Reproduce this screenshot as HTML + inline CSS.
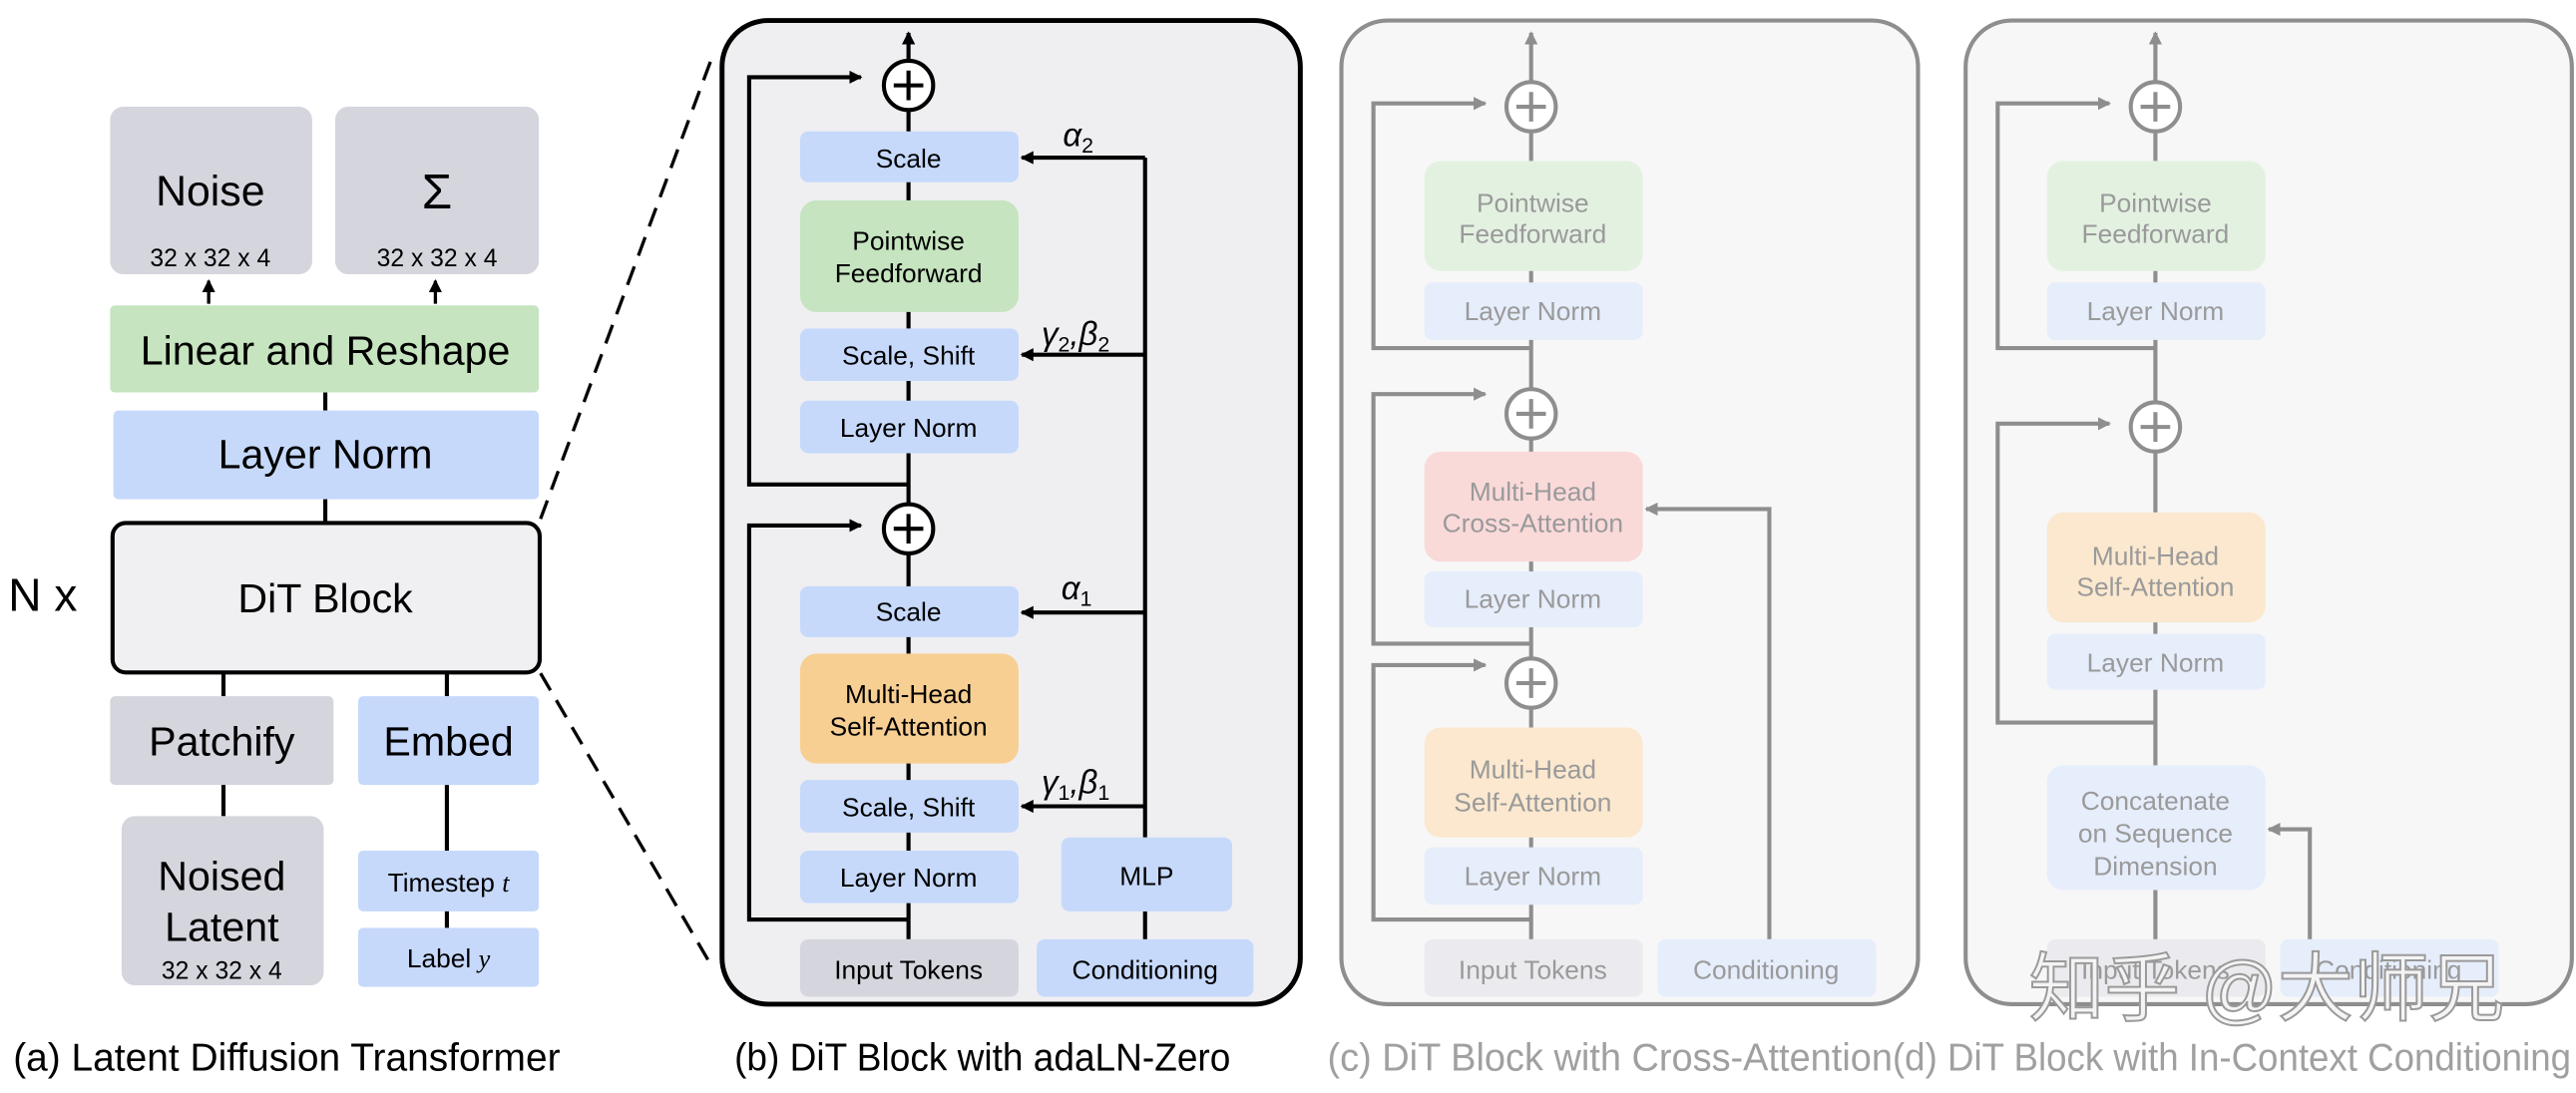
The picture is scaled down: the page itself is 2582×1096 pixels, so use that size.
<!DOCTYPE html>
<html><head><meta charset="utf-8"><style>
html,body{margin:0;padding:0;background:#fff;}
svg{display:block;}
text{font-family:"Liberation Sans","Noto Sans CJK SC",sans-serif;}
</style></head><body>
<svg width="2582" height="1096" viewBox="0 0 1568 665.6" xmlns="http://www.w3.org/2000/svg">
<defs>
<marker id="ab" markerWidth="8" markerHeight="8" refX="7" refY="4" orient="auto" markerUnits="userSpaceOnUse"><path d="M0,0 L8,4 L0,8 z" fill="#000"/></marker>
<marker id="ag" markerWidth="8" markerHeight="8" refX="7" refY="4" orient="auto" markerUnits="userSpaceOnUse"><path d="M0,0 L8,4 L0,8 z" fill="#8e8e8e"/></marker>
</defs>
<rect width="1568" height="665.6" fill="#fff"/>

<!-- Panel (a) -->
<g text-anchor="middle" fill="#000">
<rect x="67" y="65" width="123" height="102" rx="8" fill="#d5d5de"/>
<text x="128" y="125" font-size="26">Noise</text>
<text x="128" y="162" font-size="15">32 x 32 x 4</text>
<rect x="204" y="65" width="124" height="102" rx="8" fill="#d5d5de"/>
<text x="266" y="127" font-size="30">Σ</text>
<text x="266" y="162" font-size="15">32 x 32 x 4</text>
<line x1="127" y1="185" x2="127" y2="171" stroke="#000" stroke-width="2" marker-end="url(#ab)"/>
<line x1="265" y1="185" x2="265" y2="171" stroke="#000" stroke-width="2" marker-end="url(#ab)"/>
<rect x="67" y="186" width="261" height="53" rx="3" fill="#c5e4bf"/>
<text x="198" y="222" font-size="25">Linear and Reshape</text>
<line x1="198" y1="239" x2="198" y2="250" stroke="#000" stroke-width="2.5"/>
<rect x="69" y="250" width="259" height="54" rx="3" fill="#c6d9fb"/>
<text x="198" y="285" font-size="25">Layer Norm</text>
<line x1="198" y1="304" x2="198" y2="318" stroke="#000" stroke-width="2.5"/>
<rect x="68.5" y="318.5" width="260" height="91" rx="8" fill="#f0f0f2" stroke="#000" stroke-width="2.5"/>
<text x="198" y="373" font-size="25">DiT Block</text>
<text x="5" y="372" font-size="28" text-anchor="start">N x</text>
<line x1="136" y1="410" x2="136" y2="424" stroke="#000" stroke-width="2.5"/>
<line x1="272" y1="410" x2="272" y2="424" stroke="#000" stroke-width="2.5"/>
<rect x="67" y="424" width="136" height="54" rx="3" fill="#d5d5de"/>
<text x="135" y="460" font-size="25">Patchify</text>
<rect x="218" y="424" width="110" height="54" rx="3" fill="#c6d9fb"/>
<text x="273" y="460" font-size="25">Embed</text>
<line x1="136" y1="478" x2="136" y2="497" stroke="#000" stroke-width="2.5"/>
<rect x="74" y="497" width="123" height="103" rx="8" fill="#d5d5de"/>
<text x="135" y="542" font-size="25">Noised</text>
<text x="135" y="573" font-size="25">Latent</text>
<text x="135" y="596" font-size="15">32 x 32 x 4</text>
<line x1="272" y1="478" x2="272" y2="585" stroke="#000" stroke-width="2.5"/>
<rect x="218" y="518" width="110" height="37" rx="3" fill="#c6d9fb"/>
<text x="273" y="543" font-size="16">Timestep <tspan font-style="italic" font-family="Liberation Serif, serif">t</tspan></text>
<rect x="218" y="565" width="110" height="36" rx="3" fill="#c6d9fb"/>
<text x="273" y="589" font-size="16">Label <tspan font-style="italic" font-family="Liberation Serif, serif">y</tspan></text>
<text x="8" y="652" font-size="23.5" text-anchor="start" textLength="333" lengthAdjust="spacingAndGlyphs">(a) Latent Diffusion Transformer</text>
</g>
<line x1="329" y1="316" x2="433" y2="36" stroke="#000" stroke-width="2" stroke-dasharray="12,7"/>
<line x1="329" y1="410" x2="433" y2="588" stroke="#000" stroke-width="2" stroke-dasharray="12,7"/>

<!-- Panel (b) -->
<rect x="439.5" y="12.5" width="352" height="599" rx="28" fill="#efeff2" stroke="#000" stroke-width="3"/>
<g stroke="#000" stroke-width="2.5" fill="none">
<line x1="553" y1="37" x2="553" y2="20" marker-end="url(#ab)"/>
<line x1="553" y1="67" x2="553" y2="560"/>
<polyline points="553,295 456,295 456,47 524,47" marker-end="url(#ab)"/>
<polyline points="553,560 456,560 456,320 524,320" marker-end="url(#ab)"/>
<line x1="553" y1="560" x2="553" y2="572"/>
<line x1="697" y1="96" x2="697" y2="510"/>
<line x1="697" y1="555" x2="697" y2="572"/>
<line x1="697" y1="96" x2="622" y2="96" marker-end="url(#ab)"/>
<line x1="697" y1="216" x2="622" y2="216" marker-end="url(#ab)"/>
<line x1="697" y1="373" x2="622" y2="373" marker-end="url(#ab)"/>
<line x1="697" y1="491" x2="622" y2="491" marker-end="url(#ab)"/>
</g>
<g text-anchor="middle" fill="#000" font-size="16">
<circle cx="553" cy="52" r="15" fill="#fff" stroke="#000" stroke-width="2.5"/>
<path d="M544,52 H562 M553,43 V61" stroke="#000" stroke-width="2.5"/>
<circle cx="553" cy="322" r="15" fill="#fff" stroke="#000" stroke-width="2.5"/>
<path d="M544,322 H562 M553,313 V331" stroke="#000" stroke-width="2.5"/>
<rect x="487" y="80" width="133" height="31" rx="5" fill="#c6d9fb"/><text x="553" y="102">Scale</text>
<rect x="487" y="122" width="133" height="68" rx="10" fill="#c5e4bf"/><text x="553" y="152">Pointwise</text><text x="553" y="172">Feedforward</text>
<rect x="487" y="200" width="133" height="32" rx="5" fill="#c6d9fb"/><text x="553" y="222">Scale, Shift</text>
<rect x="487" y="244" width="133" height="32" rx="5" fill="#c6d9fb"/><text x="553" y="266">Layer Norm</text>
<rect x="487" y="357" width="133" height="31" rx="5" fill="#c6d9fb"/><text x="553" y="378">Scale</text>
<rect x="487" y="398" width="133" height="67" rx="10" fill="#f8cf93"/><text x="553" y="428">Multi-Head</text><text x="553" y="448">Self-Attention</text>
<rect x="487" y="475" width="133" height="32" rx="5" fill="#c6d9fb"/><text x="553" y="497">Scale, Shift</text>
<rect x="487" y="518" width="133" height="32" rx="5" fill="#c6d9fb"/><text x="553" y="540">Layer Norm</text>
<rect x="646" y="510" width="104" height="45" rx="5" fill="#c6d9fb"/><text x="698" y="539">MLP</text>
<rect x="487" y="572" width="133" height="35" rx="5" fill="#d5d5de"/><text x="553" y="596">Input Tokens</text>
<rect x="631" y="572" width="132" height="35" rx="5" fill="#c6d9fb"/><text x="697" y="596">Conditioning</text>
<g font-family="Liberation Serif, serif" font-style="italic" font-size="20" text-anchor="start">
<text x="647" y="89">α<tspan font-size="13" dy="4" font-style="normal">2</tspan></text>
<text x="634" y="210">γ<tspan font-size="13" dy="4" font-style="normal">2</tspan><tspan dy="-4">,β</tspan><tspan font-size="13" dy="4" font-style="normal">2</tspan></text>
<text x="646" y="365">α<tspan font-size="13" dy="4" font-style="normal">1</tspan></text>
<text x="634" y="483">γ<tspan font-size="13" dy="4" font-style="normal">1</tspan><tspan dy="-4">,β</tspan><tspan font-size="13" dy="4" font-style="normal">1</tspan></text>
</g>
<text x="447" y="652" font-size="23.5" text-anchor="start" textLength="302" lengthAdjust="spacingAndGlyphs">(b) DiT Block with adaLN-Zero</text>
</g>

<!-- Panel (c) -->
<rect x="816.5" y="12.5" width="351" height="599" rx="28" fill="#f7f7f7" stroke="#8e8e8e" stroke-width="2.5"/>
<g stroke="#8e8e8e" stroke-width="2.5" fill="none">
<line x1="932" y1="50" x2="932" y2="20" marker-end="url(#ag)"/>
<line x1="932" y1="80" x2="932" y2="572"/>
<polyline points="932,212 836,212 836,63 904,63" marker-end="url(#ag)"/>
<polyline points="932,392 836,392 836,240 904,240" marker-end="url(#ag)"/>
<polyline points="932,560 836,560 836,405 904,405" marker-end="url(#ag)"/>
<polyline points="1077,572 1077,310 1002,310" marker-end="url(#ag)"/>
</g>
<g text-anchor="middle" fill="#9a9a9a" font-size="16">
<circle cx="932" cy="65" r="15" fill="#fff" stroke="#8e8e8e" stroke-width="2.5"/><path d="M923,65 H941 M932,56 V74" stroke="#8e8e8e" stroke-width="2.5"/>
<circle cx="932" cy="252" r="15" fill="#fff" stroke="#8e8e8e" stroke-width="2.5"/><path d="M923,252 H941 M932,243 V261" stroke="#8e8e8e" stroke-width="2.5"/>
<circle cx="932" cy="416" r="15" fill="#fff" stroke="#8e8e8e" stroke-width="2.5"/><path d="M923,416 H941 M932,407 V425" stroke="#8e8e8e" stroke-width="2.5"/>
<rect x="867" y="98" width="133" height="67" rx="10" fill="#e3f1e1"/><text x="933" y="129">Pointwise</text><text x="933" y="148">Feedforward</text>
<rect x="867" y="172" width="133" height="35" rx="5" fill="#e6edfb"/><text x="933" y="195">Layer Norm</text>
<rect x="867" y="275" width="133" height="67" rx="10" fill="#fad9d9"/><text x="933" y="305">Multi-Head</text><text x="933" y="324">Cross-Attention</text>
<rect x="867" y="348" width="133" height="34" rx="5" fill="#e6edfb"/><text x="933" y="370">Layer Norm</text>
<rect x="867" y="443" width="133" height="67" rx="10" fill="#fbe8cf"/><text x="933" y="474">Multi-Head</text><text x="933" y="494">Self-Attention</text>
<rect x="867" y="516" width="133" height="35" rx="5" fill="#e6edfb"/><text x="933" y="539">Layer Norm</text>
<rect x="867" y="572" width="133" height="35" rx="5" fill="#ebebef"/><text x="933" y="596">Input Tokens</text>
<rect x="1009" y="572" width="133" height="35" rx="5" fill="#e6edfb"/><text x="1075" y="596">Conditioning</text>
</g>

<!-- Panel (d) -->
<rect x="1196.5" y="12.5" width="369" height="599" rx="28" fill="#f7f7f7" stroke="#8e8e8e" stroke-width="2.5"/>
<g stroke="#8e8e8e" stroke-width="2.5" fill="none">
<line x1="1312" y1="50" x2="1312" y2="20" marker-end="url(#ag)"/>
<line x1="1312" y1="80" x2="1312" y2="572"/>
<polyline points="1312,212 1216,212 1216,63 1284,63" marker-end="url(#ag)"/>
<polyline points="1312,440 1216,440 1216,258 1284,258" marker-end="url(#ag)"/>
<polyline points="1406,572 1406,505 1381,505" marker-end="url(#ag)"/>
</g>
<g text-anchor="middle" fill="#9a9a9a" font-size="16">
<circle cx="1312" cy="65" r="15" fill="#fff" stroke="#8e8e8e" stroke-width="2.5"/><path d="M1303,65 H1321 M1312,56 V74" stroke="#8e8e8e" stroke-width="2.5"/>
<circle cx="1312" cy="260" r="15" fill="#fff" stroke="#8e8e8e" stroke-width="2.5"/><path d="M1303,260 H1321 M1312,251 V269" stroke="#8e8e8e" stroke-width="2.5"/>
<rect x="1246" y="98" width="133" height="67" rx="10" fill="#e3f1e1"/><text x="1312" y="129">Pointwise</text><text x="1312" y="148">Feedforward</text>
<rect x="1246" y="172" width="133" height="35" rx="5" fill="#e6edfb"/><text x="1312" y="195">Layer Norm</text>
<rect x="1246" y="312" width="133" height="67" rx="10" fill="#fbe8cf"/><text x="1312" y="344">Multi-Head</text><text x="1312" y="363">Self-Attention</text>
<rect x="1246" y="386" width="133" height="34" rx="5" fill="#e6edfb"/><text x="1312" y="409">Layer Norm</text>
<rect x="1246" y="466" width="133" height="76" rx="10" fill="#e6edfb"/><text x="1312" y="493">Concatenate</text><text x="1312" y="513">on Sequence</text><text x="1312" y="533">Dimension</text>
<rect x="1246" y="572" width="133" height="35" rx="5" fill="#ebebef"/><text x="1312" y="596">Input Tokens</text>
<rect x="1388" y="572" width="133" height="35" rx="5" fill="#e6edfb"/><text x="1454" y="596">Conditioning</text>
</g>
<text x="1235" y="618" font-size="46" fill="#f4f4f4" stroke="#9a9a9a" stroke-width="1.2" font-family="Liberation Sans, Noto Sans CJK SC, sans-serif">知乎 @大师兄</text>

<g fill="#a0a0a0" font-size="23.5">
<text x="808" y="652" textLength="344" lengthAdjust="spacingAndGlyphs">(c) DiT Block with Cross-Attention</text>
<text x="1152" y="652" textLength="413" lengthAdjust="spacingAndGlyphs">(d) DiT Block with In-Context Conditioning</text>
</g>
</svg>
</body></html>
